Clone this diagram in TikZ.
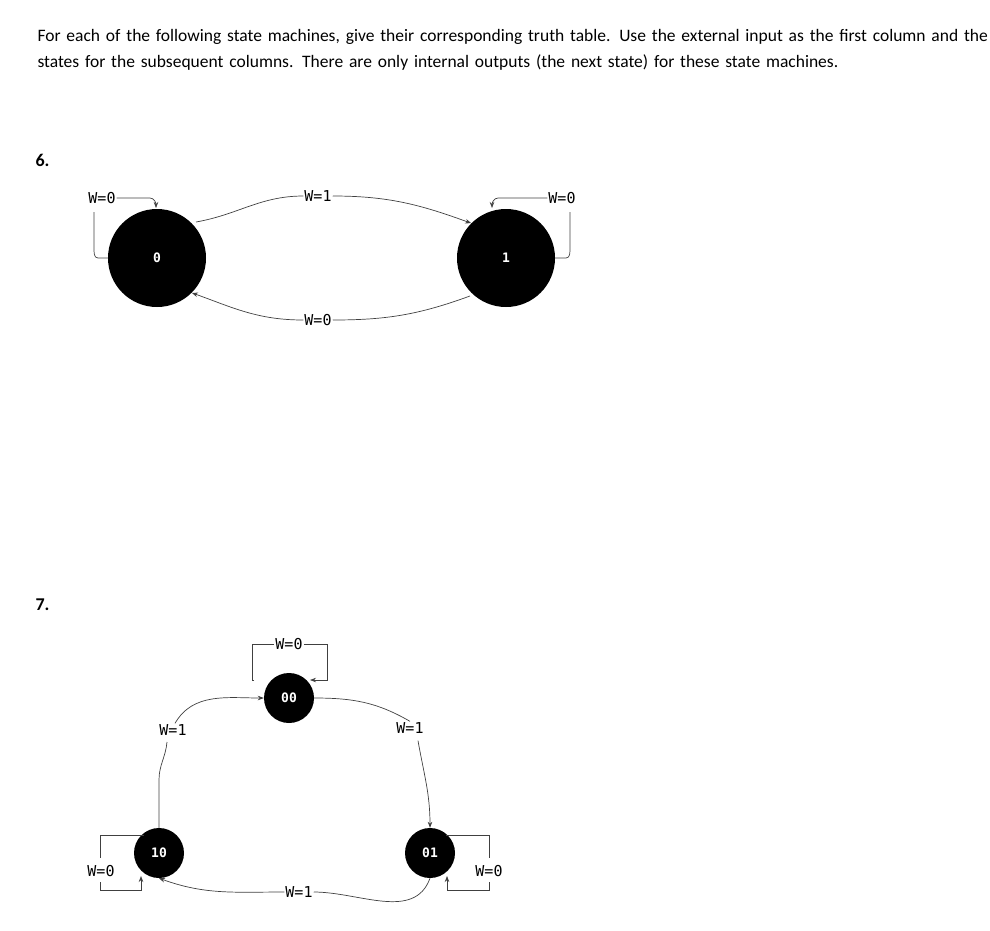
\documentclass[tikz,border=0pt]{standalone}
\usepackage{fontspec}
\setmainfont{Carlito}
\newfontfamily\mono{DejaVu Sans Mono}
\usetikzlibrary{arrows.meta}
\begin{document}
\begin{tikzpicture}[x=1pt,y=-1pt,
  st/.style={circle,fill=black,text=white,inner sep=0pt,font=\mono\bfseries\fontsize{13}{13}\selectfont},
  lbl/.style={fill=white,inner sep=1pt,font=\mono\fontsize{15}{15}\selectfont},
  ed/.style={draw=black!75,line width=0.7pt,-{Stealth[length=6pt,width=4.5pt]}},
  ln/.style={draw=black!75,line width=0.7pt}]
\useasboundingbox (0,0) rectangle (990,930);
\node[anchor=west,font=\fontsize{17.5}{26}\selectfont,align=left,text width=960pt] (txt) at (34,50) {For each of the following state machines, give their corresponding truth table. Use the external input as the first column and the states for the subsequent columns. There are only internal outputs (the next state) for these state machines.};
\node[anchor=west,font=\bfseries\fontsize{18}{18}\selectfont] (s6) at (32,160) {6.};
\node[anchor=west,font=\bfseries\fontsize{18}{18}\selectfont] (s7) at (32,605) {7.};
% machine 6
\node[st,minimum size=98pt] (a) at (157,258) {0};
\node[st,minimum size=98pt] (b) at (506,258) {1};
\node[lbl] (la) at (102,198) {W=0};
\node[lbl] (lb) at (562,198) {W=0};
\node[lbl] (l1) at (318,196) {W=1};
\node[lbl] (l0) at (318,320) {W=0};
\draw[ln] (108,258) -- (98,258) to[out=180,out=180,in=-90] (94,248) -- (94,212);
\draw[ed] (la.east) -- (150,198) to[out=0,in=90] (156,208);
\draw[ln] (555,258) -- (566,258) to[out=0,in=-90] (570,248) -- (570,212);
\draw[ed] (lb.west) -- (498,198) to[out=180,in=90] (492,208);
\draw[ln] (196,222) to[out=10,in=180] (l1.west);
\draw[ed] (l1.east) to[out=0,in=160] (b.north west);
\draw[ln] (470,296) to[out=-160,in=0] (l0.east);
\draw[ed] (l0.west) to[out=180,in=-20] (a.south east);
% machine 7
\node[st,minimum size=50pt] (c) at (289,698) {00};
\node[st,minimum size=50pt] (d) at (159,853) {10};
\node[st,minimum size=50pt] (e) at (430,853) {01};
\node[lbl] (lc) at (289,644) {W=0};
\node[lbl] (ld) at (101,871) {W=0};
\node[lbl] (le) at (489,871) {W=0};
\node[lbl] (lce) at (410,728) {W=1};
\node[lbl] (ldc) at (173,730) {W=1};
\node[lbl] (led) at (299,892) {W=1};
\draw[ln] (254,680) -- (252,680) -- (252,644) -- (lc.west);
\draw[ed] (lc.east) -- (327,644) -- (327,680) -- (310,680);
\draw[ln] (144,835) -- (100,835) -- (100,858);
\draw[ed] (100,882) -- (100,890) -- (141,890) -- (141,876);
\draw[ln] (446,835) -- (489,835) -- (489,858);
\draw[ed] (489,882) -- (489,890) -- (447,890) -- (447,876);
\draw[ln] (c.east) to[out=0,in=150] (lce.north);
\draw[ed] (lce.south) ++(8,6) to[out=-80,in=90] (e.north);
\draw[ln] (d.north) -- (159,780) to[out=90,in=-95] (167,742);
\draw[ed] (ldc.north) ++(2,0) to[out=60,in=180] (c.west);
\draw[ln] (e.south) to[out=-110,in=0] (led.east);
\draw[ed] (led.west) to[out=180,in=-20] (d.south);
\end{tikzpicture}
\end{document}
